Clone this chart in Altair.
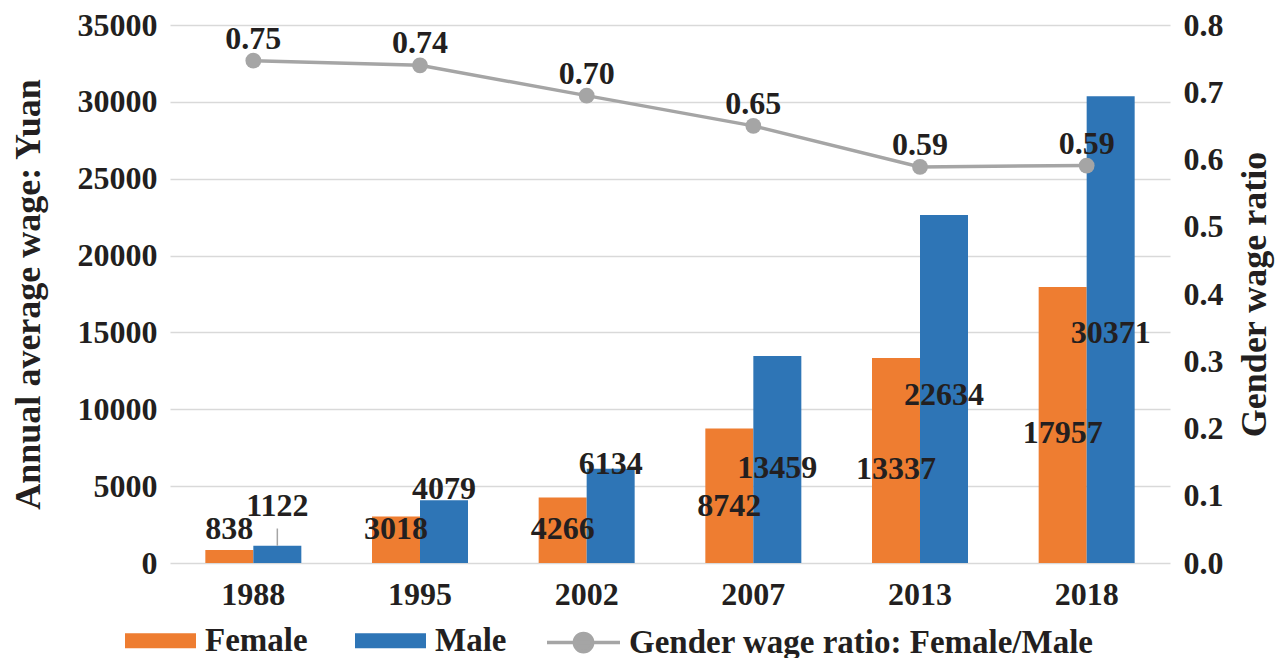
import altair as alt
import pandas as pd

# ---------------- data ----------------
years = ["1988", "1995", "2002", "2007", "2013", "2018"]
female = [838, 3018, 4266, 8742, 13337, 17957]
male = [1122, 4079, 6134, 13459, 22634, 30371]
ratio = [0.747, 0.740, 0.695, 0.650, 0.589, 0.591]
ratio_labels = ["0.75", "0.74", "0.70", "0.65", "0.59", "0.59"]
sexes = ["Female", "Male"]
ratio_name = "Gender wage ratio: Female/Male"

# where each wage label sits (in Yuan), as placed in the reference
female_label_at = [2244, 2244, 2244, 3718, 6090, 8462]
male_label_at = [3718, 4808, 6410, 6154, 10930, 14968]
# leader line for the 1988 male label (from bar top up to this level, Yuan)
leader_year = "1988"
leader_top = 2244

# ---------------- tables ----------------
rows = []
for i, y in enumerate(years):
    rows.append({"year": y, "sex": "Female", "wage": female[i], "label_at": female_label_at[i]})
    rows.append({"year": y, "sex": "Male", "wage": male[i], "label_at": male_label_at[i]})
bars_df = pd.DataFrame(rows)
leader_df = pd.DataFrame([{"year": leader_year, "sex": "Male",
                           "wage": male[years.index(leader_year)], "top": leader_top}])
ratio_df = pd.DataFrame({"year": years, "ratio": ratio, "label": ratio_labels,
                         "series": [ratio_name] * len(years)})

FONT = "Liberation Serif"
FS = 32
TFS = 36
LFS = 33
TXT = "#231F20"
ORANGE = "#EE7D31"
BLUE = "#2E75B6"
GREY = "#A5A5A5"

x_enc = alt.X("year:N", sort=years, title=None,
              scale=alt.Scale(paddingInner=0.424, paddingOuter=0.212),
              axis=alt.Axis(labelAngle=0, domain=False, ticks=False, grid=False,
                            labelPadding=16))
y_left_scale = alt.Scale(domain=[0, 35000], nice=False, zero=True)
y_right_scale = alt.Scale(domain=[0, 0.8], nice=False, zero=True)

bars = alt.Chart(bars_df).mark_bar(opacity=1).encode(
    x=x_enc,
    xOffset=alt.XOffset("sex:N", sort=sexes, scale=alt.Scale(paddingInner=0, paddingOuter=0)),
    y=alt.Y("wage:Q", scale=y_left_scale,
            title="Annual average wage: Yuan",
            axis=alt.Axis(values=list(range(0, 35001, 5000)), format="d",
                          domain=False, ticks=False, grid=True,
                          gridColor="#D9D9D9", gridWidth=1.5,
                          labelPadding=13, titlePadding=30)),
    color=alt.Color("sex:N", sort=sexes,
                    scale=alt.Scale(domain=sexes, range=[ORANGE, BLUE]),
                    legend=alt.Legend(title=None, orient="none", direction="horizontal",
                                      legendX=-45, legendY=580,
                                      symbolType="M-1,-0.21H1V0.21H-1Z",
                                      symbolSize=5041, symbolStrokeWidth=0,
                                      labelOffset=9, columnPadding=47)),
)

bar_text = alt.Chart(bars_df).mark_text(
    font=FONT, fontSize=FS, fontWeight="bold", color=TXT, baseline="middle", align="center"
).encode(
    x=alt.X("year:N", sort=years),
    xOffset=alt.XOffset("sex:N", sort=sexes),
    y=alt.Y("label_at:Q", scale=y_left_scale, title="Annual average wage: Yuan"),
    text=alt.Text("wage:Q", format="d"),
)

leader = alt.Chart(leader_df).mark_rule(color=GREY, strokeWidth=1.5).encode(
    x=alt.X("year:N", sort=years),
    xOffset=alt.XOffset("sex:N", sort=sexes),
    y=alt.Y("wage:Q", scale=y_left_scale, title="Annual average wage: Yuan"),
    y2="top:Q",
)

left = alt.layer(bars, leader, bar_text)

y_right = alt.Y("ratio:Q", scale=y_right_scale, title="Gender wage ratio",
                axis=alt.Axis(orient="right", values=[i / 10 for i in range(0, 9)],
                              format=".1f", domain=False, ticks=False, grid=False,
                              labelPadding=13, titlePadding=14, titleAngle=270,
                              titleBaseline="top"))

line = alt.Chart(ratio_df).mark_line(strokeWidth=3.5).encode(
    x=alt.X("year:N", sort=years),
    y=y_right,
    stroke=alt.Stroke("series:N", scale=alt.Scale(domain=[ratio_name], range=[GREY]),
                      legend=alt.Legend(title=None, orient="none", legendX=375, legendY=579,
                                        symbolType="M-1,0H1M0.25,0A0.25,0.25,0,1,1,-0.25,0A0.25,0.25,0,1,1,0.25,0",
                                        symbolSize=5329, symbolStrokeWidth=3.5,
                                        symbolFillColor=GREY, labelOffset=7)),
)

points = alt.Chart(ratio_df).mark_point(filled=True, size=250, opacity=1, color=GREY).encode(
    x=alt.X("year:N", sort=years),
    y=y_right,
)

ratio_text = alt.Chart(ratio_df).mark_text(
    font=FONT, fontSize=FS, fontWeight="bold", color=TXT, baseline="middle", align="center", dy=-22
).encode(
    x=alt.X("year:N", sort=years),
    y=y_right,
    text="label:N",
)

right = alt.layer(line, points, ratio_text)

chart = alt.layer(left, right).resolve_scale(y="independent").properties(
    width=1000, height=538,
    autosize=alt.AutoSizeParams(type="none"),
    padding={"left": 162, "top": 17, "right": 109, "bottom": 95},
).configure_view(stroke=None).configure_axis(
    labelFont=FONT, labelFontSize=FS, labelFontWeight="bold", labelColor=TXT,
    titleFont=FONT, titleFontSize=TFS, titleFontWeight="bold", titleColor=TXT,
    tickSize=0,
).configure_legend(
    labelFont=FONT, labelFontSize=LFS, labelFontWeight="bold", labelColor=TXT,
    labelLimit=0,
)

chart.save("out.html", embed_options={"renderer": "svg", "actions": False})
